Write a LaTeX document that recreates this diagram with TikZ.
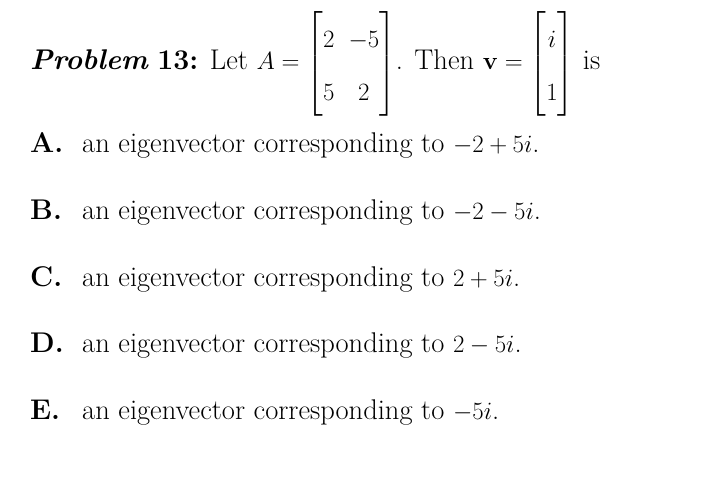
\documentclass[tikz,border=0pt]{standalone}
\usepackage{amsmath}
\begin{document}
\begin{tikzpicture}[x=1pt,y=-1pt,
  txt/.style={anchor=base west,inner sep=0pt,font=\fontsize{28.5}{34}\selectfont}]
\useasboundingbox (0,0) rectangle (710,484);
\node[txt] (p) at (30,70) {\textbf{\textit{Problem}} \textbf{13:} Let $A=\setlength\arraycolsep{7pt}\renewcommand\arraystretch{1.55}\begin{bmatrix}2&-5\\5&2\end{bmatrix}$. Then $\mathbf{v}=\setlength\arraycolsep{7pt}\renewcommand\arraystretch{1.55}\begin{bmatrix}i\\1\end{bmatrix}$ is};
\foreach \l/\t [count=\k from 0] in {A/$-2+5i$, B/$-2-5i$, C/$2+5i$, D/$2-5i$, E/$-5i$}{
  \node[txt] (l\l) at (30,153+66.5*\k) {\textbf{\l.}};
  \node[txt] (t\l) at (82,153+66.5*\k) {an eigenvector corresponding to \t.};
}
\end{tikzpicture}
\end{document}
